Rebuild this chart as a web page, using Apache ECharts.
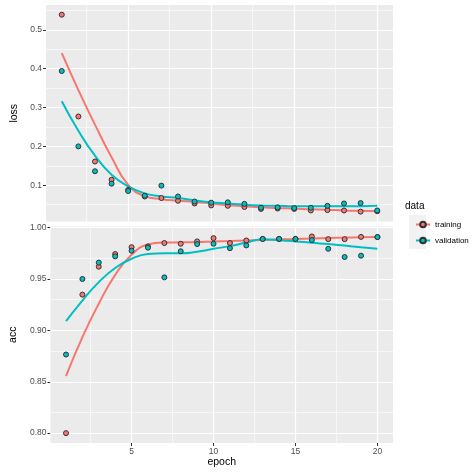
<!DOCTYPE html>
<html>
<head>
<meta charset="utf-8">
<script src="https://cdn.jsdelivr.net/npm/echarts@6/dist/echarts.min.js"></script>
<style>
  html, body { margin: 0; padding: 0; background: #fff; }
  #main { width: 474px; height: 474px; }
</style>
</head>
<body>
<div id="main"></div>
<script>
// values
var epochs = [1, 2, 3, 4, 5, 6, 7, 8, 9, 10, 11, 12, 13, 14, 15, 16, 17, 18, 19, 20];

var lossTraining = [0.539, 0.277, 0.161, 0.114, 0.088, 0.071, 0.067, 0.060, 0.053, 0.048,
  0.047, 0.044, 0.039, 0.040, 0.039, 0.035, 0.036, 0.035, 0.032, 0.033];
var lossValidation = [0.394, 0.200, 0.136, 0.104, 0.085, 0.073, 0.099, 0.071, 0.058, 0.055,
  0.056, 0.052, 0.042, 0.043, 0.041, 0.042, 0.047, 0.053, 0.054, 0.035];
var lossTrainingSmooth = [0.440, 0.345, 0.256, 0.172, 0.101, 0.072, 0.064, 0.060, 0.057, 0.053,
  0.049, 0.046, 0.043, 0.041, 0.040, 0.038, 0.037, 0.035, 0.034, 0.033];
var lossValidationSmooth = [0.316, 0.240, 0.176, 0.127, 0.097, 0.079, 0.071, 0.067, 0.061, 0.056,
  0.053, 0.050, 0.048, 0.047, 0.046, 0.046, 0.046, 0.046, 0.046, 0.047];

var accTraining = [0.800, 0.9348, 0.962, 0.9743, 0.981, 0.9817, 0.985, 0.9843, 0.9866, 0.9898,
  0.985, 0.9875, 0.989, 0.989, 0.989, 0.9914, 0.9888, 0.9888, 0.991, 0.9908];
var accValidation = [0.8765, 0.950, 0.966, 0.972, 0.9775, 0.9805, 0.9516, 0.977, 0.984, 0.9843,
  0.980, 0.9827, 0.989, 0.989, 0.989, 0.9879, 0.9794, 0.9714, 0.9727, 0.9908];
var accTrainingSmooth = [0.8555, 0.8935, 0.926, 0.954, 0.9736, 0.9835, 0.9855, 0.9857, 0.986, 0.9866,
  0.987, 0.9875, 0.988, 0.9886, 0.989, 0.9895, 0.990, 0.9903, 0.9907, 0.991];
var accValidationSmooth = [0.909, 0.929, 0.947, 0.9607, 0.9697, 0.9743, 0.975, 0.975, 0.9765, 0.9794,
  0.982, 0.9855, 0.9887, 0.9878, 0.9866, 0.9852, 0.984, 0.9825, 0.981, 0.9795];

var epochTicks = [5, 10, 15, 20];
var epochMinor = [2.5, 7.5, 12.5, 17.5];
var lossTicks = [0.1, 0.2, 0.3, 0.4, 0.5];
var lossMinor = [0.05, 0.15, 0.25, 0.35, 0.45, 0.55];
var accTicks = [0.80, 0.85, 0.90, 0.95, 1.00];
var accMinor = [0.825, 0.875, 0.925, 0.975];

var RED = '#F8766D';
var TEAL = '#00BFC4';
var FONT = 'Liberation Sans, Arial, sans-serif';

function pairs(ys) {
  return epochs.map(function (e, i) { return [e, ys[i]]; });
}

// ggplot-like white grid drawn as mark lines under the data
function gridSeries(idx, yMajor, yMinor) {
  var lines = [];
  epochMinor.forEach(function (v) { lines.push({ xAxis: v, lineStyle: { width: 0.6 } }); });
  yMinor.forEach(function (v) { lines.push({ yAxis: v, lineStyle: { width: 0.6 } }); });
  epochTicks.forEach(function (v) { lines.push({ xAxis: v, lineStyle: { width: 1.2 } }); });
  yMajor.forEach(function (v) { lines.push({ yAxis: v, lineStyle: { width: 1.2 } }); });
  return {
    type: 'line',
    xAxisIndex: idx,
    yAxisIndex: idx,
    data: [],
    silent: true,
    markLine: {
      silent: true,
      z: 1,
      symbol: ['none', 'none'],
      label: { show: false },
      lineStyle: { color: '#FFFFFF', type: 'solid' },
      emphasis: { disabled: true },
      animation: false,
      data: lines
    }
  };
}

function smoothSeries(name, idx, ys, color) {
  return {
    name: name,
    type: 'line',
    xAxisIndex: idx,
    yAxisIndex: idx,
    data: pairs(ys),
    smooth: 0.5,
    showSymbol: false,
    symbol: 'circle',
    symbolSize: 5,
    itemStyle: { color: color, borderColor: '#333333', borderWidth: 1 },
    lineStyle: { color: color, width: 2 },
    z: 3,
    silent: true
  };
}

function pointSeries(name, idx, ys, color) {
  return {
    name: name,
    type: 'scatter',
    xAxisIndex: idx,
    yAxisIndex: idx,
    data: pairs(ys),
    symbol: 'circle',
    symbolSize: 5,
    itemStyle: { color: color, borderColor: '#333333', borderWidth: 1, opacity: 1 },
    z: 4,
    silent: true
  };
}

function yAxisFor(idx, name, min, max, ticks, digits) {
  return {
    type: 'value',
    gridIndex: idx,
    min: min,
    max: max,
    name: name,
    nameLocation: 'middle',
    nameGap: 26,
    nameRotate: 90,
    nameTextStyle: { color: '#000000', fontSize: 10.5, fontFamily: FONT },
    axisLine: { show: false },
    splitLine: { show: false },
    axisTick: { show: true, length: 3, customValues: ticks, lineStyle: { color: '#333333', width: 1 } },
    axisLabel: {
      customValues: ticks,
      margin: 4,
      color: '#4D4D4D',
      fontSize: 8.5,
      fontFamily: FONT,
      formatter: function (v) { return v.toFixed(digits); }
    }
  };
}

var chart = echarts.init(document.getElementById('main'), null, { renderer: 'canvas' });

var option = {
  backgroundColor: '#FFFFFF',
  animation: false,
  grid: [
    { left: 46, top: 5, width: 347, height: 216.5, show: true, backgroundColor: '#EBEBEB', borderWidth: 0 },
    { left: 46, top: 226.5, width: 347, height: 216.5, show: true, backgroundColor: '#EBEBEB', borderWidth: 0 }
  ],
  xAxis: [
    { type: 'value', gridIndex: 0, min: 0.05, max: 20.95, show: false },
    {
      type: 'value',
      gridIndex: 1,
      min: 0.05,
      max: 20.95,
      name: 'epoch',
      nameLocation: 'middle',
      nameGap: 13,
      nameTextStyle: { color: '#000000', fontSize: 10.5, fontFamily: FONT },
      axisLine: { show: false },
      splitLine: { show: false },
      axisTick: { show: true, length: 3, customValues: epochTicks, lineStyle: { color: '#333333', width: 1 } },
      axisLabel: { customValues: epochTicks, margin: 4, color: '#4D4D4D', fontSize: 8.5, fontFamily: FONT }
    }
  ],
  yAxis: [
    yAxisFor(0, 'loss', 0.0066, 0.564, lossTicks, 1),
    yAxisFor(1, 'acc', 0.7904, 1.0011, accTicks, 2)
  ],
  legend: {
    data: ['training', 'validation'],
    orient: 'vertical',
    left: 410,
    top: 215.5,
    itemWidth: 14,
    itemHeight: 7,
    itemGap: 8,
    selectedMode: false,
    textStyle: { color: '#000000', fontSize: 8, fontFamily: FONT }
  },
  graphic: [
    { type: 'rect', left: 409, top: 215, shape: { width: 17, height: 17 }, style: { fill: '#F2F2F2' }, z: -1 },
    { type: 'rect', left: 409, top: 232, shape: { width: 17, height: 17 }, style: { fill: '#F2F2F2' }, z: -1 },
    { type: 'text', left: 405, top: 201, style: { text: 'data', fill: '#000000', font: '10px ' + FONT } }
  ],
  // smooth lines first so the legend picks their line + point icon
  series: [
    smoothSeries('training', 0, lossTrainingSmooth, RED),
    smoothSeries('validation', 0, lossValidationSmooth, TEAL),
    smoothSeries('training', 1, accTrainingSmooth, RED),
    smoothSeries('validation', 1, accValidationSmooth, TEAL),
    gridSeries(0, lossTicks, lossMinor),
    gridSeries(1, accTicks, accMinor),
    pointSeries('training', 0, lossTraining, RED),
    pointSeries('validation', 0, lossValidation, TEAL),
    pointSeries('training', 1, accTraining, RED),
    pointSeries('validation', 1, accValidation, TEAL)
  ]
};

chart.setOption(option);
</script>
</body>
</html>
